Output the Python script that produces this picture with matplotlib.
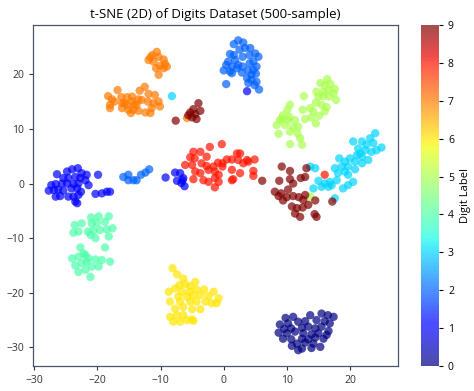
import matplotlib
matplotlib.use("Agg")
import matplotlib.pyplot as plt
import numpy as np

title = "t-SNE (2D) of Digits Dataset (500-sample)"
cbar_label = "Digit Label"
x_ticks = [-30, -20, -10, 0, 10, 20]
y_ticks = [-30, -20, -10, 0, 10, 20]
cbar_ticks = [0, 1, 2, 3, 4, 5, 6, 7, 8, 9]

digit0 = [(9.8,-24.6),(11.0,-24.4),(13.7,-24.1),(15.5,-23.8),(16.5,-24.1),(17.4,-24.4),(8.9,-25.8),(10.2,-25.6),
          (11.8,-25.3),(12.9,-25.2),(14.7,-25.0),(16.0,-25.2),(16.8,-25.6),(9.6,-26.6),(10.7,-26.5),(12.4,-26.4),
          (13.4,-26.2),(14.5,-26.5),(15.5,-26.2),(16.6,-27.0),(8.7,-27.3),(10.0,-27.4),(11.3,-27.1),(12.6,-27.4),
          (13.9,-27.6),(15.0,-27.4),(16.3,-27.7),(9.4,-28.4),(10.7,-28.5),(12.4,-28.4),(13.4,-28.5),(14.5,-28.2),
          (15.8,-28.4),(11.6,-29.3),(12.9,-29.1),(14.2,-29.3),(10.8,-29.7),(12.4,-30.2),(13.9,-30.1),(15.3,-29.9),
          (11.8,-30.5)]
digit1 = [(-26.4,1.7),(-24.8,2.2),(-24.0,2.6),(-23.1,2.8),(-22.5,1.9),(-21.7,1.6),(-19.9,1.6),(-25.4,1.0),
          (-24.6,1.0),(-23.5,1.2),(-22.7,1.0),(-21.9,0.6),(-27.3,-0.3),(-26.6,-0.1),(-25.6,0.0),(-24.8,0.0),
          (-23.8,-0.1),(-23.0,0.0),(-21.4,-0.3),(-27.7,-1.3),(-26.9,-1.2),(-26.2,-1.1),(-25.4,-1.3),(-24.1,-0.9),
          (-23.2,-0.9),(-22.6,-1.5),(-26.6,-2.4),(-25.9,-2.3),(-24.6,-2.4),(-23.8,-2.4),(-23.0,-2.1),(-23.5,-3.3),
          (-23.2,-3.6),(-20.3,-1.9),(-19.3,-1.8),(-18.5,-1.5),(-18.0,-1.5),
          (-9.2,1.1),(-7.7,2.0),(-6.9,1.9),(-6.4,1.0),(-7.4,0.5),(-6.7,0.1),(-6.2,-0.5),(-6.5,0.6),
          (3.7,16.9)]
digit2 = [(2.3,26.2),(1.6,25.5),(3.1,25.8),(3.4,24.8),(4.2,24.8),(2.5,24.5),(1.0,23.7),(1.6,23.5),(0.7,22.3),
          (1.8,22.6),(3.0,23.2),(4.1,23.5),(5.0,23.8),(5.5,23.2),(0.4,21.7),(1.3,21.4),(2.3,21.7),(3.0,21.4),
          (4.1,22.0),(4.7,22.3),(5.2,21.4),(0.0,20.7),(1.0,20.5),(2.1,21.1),(2.9,20.3),(3.9,20.7),(4.4,19.9),
          (5.1,20.1),(3.7,19.3),(4.4,19.0),(5.2,18.6),(3.9,18.4),(4.9,18.0),(5.6,17.2),(0.4,18.2),(1.3,20.2),
          (4.7,20.8),
          (-15.9,1.2),(-15.1,1.6),(-14.3,0.6),(-13.8,0.6),(-13.1,1.6),(-12.4,2.0),(-11.8,2.6),(-15.1,0.6)]
digit3 = [(24.0,9.2),(23.2,8.3),(20.5,7.7),(21.9,7.7),(22.6,7.1),(23.7,7.4),(25.0,6.6),(21.3,6.4),(22.4,6.1),
          (23.4,5.8),(21.1,5.2),(21.9,4.9),(20.0,4.6),(22.9,4.3),(18.3,4.6),(19.2,4.0),(20.8,4.0),(21.9,3.7),
          (17.6,2.8),(18.7,3.1),(19.7,3.1),(20.8,2.6),(14.5,2.8),(13.7,3.1),(18.1,1.9),(19.2,2.2),(19.7,1.6),
          (15.0,0.5),(16.0,0.0),(16.8,0.3),(15.5,-0.6),(16.6,-0.6),(14.2,-0.9),(17.9,0.6),(18.9,-0.9),(19.7,-0.3),
          (17.6,-2.7),(17.1,-0.3),(20.5,0.3),(21.6,5.5),(24.2,6.1),
          (-8.2,16.0)]
digit4 = [(-21.0,-6.2),(-19.8,-6.0),(-18.2,-6.0),(-23.6,-7.6),(-22.5,-7.3),(-20.9,-7.3),(-20.1,-7.2),(-18.8,-7.0),
          (-17.6,-8.2),(-23.8,-9.0),(-23.0,-8.8),(-21.5,-8.8),(-20.6,-8.6),(-19.6,-8.5),(-18.5,-8.4),(-21.1,-9.4),
          (-20.3,-10.0),(-18.2,-9.7),(-18.8,-11.7),(-22.7,-11.7),(-24.0,-13.7),(-23.0,-13.4),(-21.9,-13.1),
          (-21.4,-13.7),(-20.3,-13.9),(-19.3,-14.0),(-18.0,-14.3),(-23.5,-15.0),(-22.5,-14.6),(-21.7,-14.3),
          (-20.9,-15.2),(-19.8,-15.2),(-23.0,-16.2),(-21.9,-15.8),(-21.1,-17.1),(-22.2,-12.8)]
digit5 = [(16.4,19.1),(15.3,18.4),(16.0,18.0),(16.9,18.2),(17.6,17.3),(14.7,16.8),(15.8,16.8),(16.6,17.1),
          (17.4,16.5),(15.0,15.9),(15.8,16.0),(16.7,15.9),(17.8,15.3),(12.7,16.0),(10.5,14.4),(14.6,14.8),
          (15.5,14.4),(16.3,14.0),(12.5,13.5),(13.7,13.8),(14.2,13.2),(15.1,12.4),(16.0,13.2),(9.4,12.5),
          (10.4,12.2),(8.9,11.6),(8.4,10.7),(9.7,10.7),(11.0,10.3),(11.8,10.4),(12.9,11.8),(13.9,12.1),
          (14.6,11.0),(8.7,9.1),(10.5,9.5),(11.7,9.2),(12.1,8.3),(12.4,7.1),(10.5,7.2),(10.1,13.5),(9.2,11.9),
          (11.3,11.6),(10.2,11.6),
          (13.7,-2.4)]
digit6 = [(-8.1,-15.5),(-7.4,-16.6),(-6.4,-17.4),(-4.5,-18.0),(-7.0,-18.6),(-6.1,-18.4),(-5.3,-18.8),(-7.7,-19.2),
          (-8.7,-19.8),(-6.6,-19.8),(-5.4,-19.8),(-4.3,-19.4),(-3.1,-19.4),(-1.6,-19.8),(-7.2,-20.7),(-5.8,-20.7),
          (-4.8,-20.4),(-3.7,-20.4),(-2.4,-20.6),(-0.8,-21.0),(-8.5,-21.6),(-6.9,-21.6),(-5.3,-21.6),(-4.3,-21.6),
          (-2.9,-21.6),(-1.9,-21.9),(-7.7,-22.9),(-6.4,-22.6),(-5.0,-23.0),(-3.7,-23.0),(-8.5,-24.4),(-7.4,-24.1),
          (-6.4,-24.1),(-5.0,-24.9),(-8.0,-25.3),(-6.9,-25.3),(-5.8,-25.0),(-4.8,-25.1),(-1.1,-21.9)]
digit7 = [(-10.6,24.1),(-11.3,23.5),(-10.3,23.2),(-11.9,22.6),(-11.1,22.3),(-9.5,22.7),(-9.3,21.9),(-10.1,21.5),
          (-10.7,21.1),(-9.5,21.1),(-10.3,19.9),(-11.6,23.1),(-9.0,21.4),
          (-16.8,17.1),(-12.5,17.7),(-13.3,17.0),(-18.3,16.0),(-17.7,15.4),(-18.0,14.4),(-18.0,13.8),(-16.2,15.8),
          (-15.3,15.8),(-14.5,15.9),(-13.5,15.4),(-11.9,16.4),(-10.9,16.2),(-12.0,15.0),(-11.1,14.7),(-10.3,15.0),
          (-10.1,14.1),(-16.1,14.7),(-15.3,14.4),(-14.5,15.0),(-13.8,14.4),(-16.1,13.8),(-15.1,13.5),(-14.3,13.5),
          (-13.5,13.3),(-12.4,13.0),(-11.6,12.9),(-14.7,12.9),(-15.7,14.7),(-14.1,14.4),(-13.0,15.3),(-11.4,13.8),
          (-17.3,15.0),
          (-5.8,12.0)]
digit8 = [(-0.3,7.2),(-2.2,6.7),(-4.8,5.8),(-3.7,5.8),(-5.3,4.8),(-4.6,4.6),(-6.1,3.4),(-5.0,3.4),(-3.5,3.7),
          (-2.7,3.2),(-1.6,3.1),(-0.9,3.8),(-0.2,3.1),(0.5,4.4),(1.3,4.4),(2.1,5.5),(2.6,5.5),(2.3,4.3),(3.7,4.3),
          (4.9,4.4),(3.1,3.7),(3.9,4.0),(-4.5,2.2),(-3.7,1.9),(-2.4,2.5),(-1.4,2.2),(-0.8,1.6),(1.3,2.5),(2.6,1.9),
          (4.7,2.3),(-4.8,0.8),(-3.2,0.6),(-2.4,0.3),(-1.4,1.0),(-0.8,0.3),(1.3,0.6),(1.5,0.8),(4.7,1.4),
          (-1.4,-0.7),(-0.2,3.7),(-2.7,4.9),
          (16.0,1.6)]
digit9 = [(9.2,3.1),(10.5,2.3),(13.1,2.8),(8.8,0.5),(10.5,0.8),(11.0,0.0),(12.2,1.0),(12.9,1.2),(10.2,-1.1),
          (9.1,-1.8),(10.0,-2.5),(8.7,-2.3),(9.4,-3.1),(11.0,-2.3),(11.9,-2.5),(12.6,-3.0),(14.5,-3.1),(10.8,-4.2),
          (11.6,-4.5),(12.5,-4.4),(13.4,-3.9),(11.3,-5.5),(12.1,-6.1),(14.4,-5.6),(14.7,-6.1),(12.9,-2.1),
          (8.1,-1.5),(17.2,-3.3),(6.1,0.5),
          (-4.0,14.7),(-4.8,13.6),(-3.7,13.3),(-5.3,13.0),(-4.5,12.7),(-4.3,11.8),(-5.0,12.1),(-7.6,11.5),(-5.6,12.5)]

digits = [digit0, digit1, digit2, digit3, digit4, digit5, digit6, digit7, digit8, digit9]

xs, ys, labels = [], [], []
for lab, pts in enumerate(digits):
    for (px, py) in pts:
        xs.append(px)
        ys.append(py)
        labels.append(lab)

plt.rcParams['font.family'] = ['Open Sans', 'DejaVu Sans']

fig = plt.figure(figsize=(4.74, 3.91), dpi=100)
ax = fig.add_axes([0.0696, 0.0639, 0.770, 0.872])
cax = fig.add_axes([0.888, 0.0639, 0.038, 0.872])

sc = ax.scatter(xs, ys, c=labels, cmap='jet', vmin=0, vmax=9, s=36, alpha=0.7, linewidths=0)
ax.set_xlim(-30.2, 27.6)
ax.set_ylim(-33.4, 29.0)
ax.set_xticks(x_ticks)
ax.set_yticks(y_ticks)
ax.set_title(title, fontsize=9.5, pad=5)
ax.tick_params(labelsize=7.5, length=3, width=0.8, colors='#333333')
for sp in ax.spines.values():
    sp.set_color('#4a5566')
    sp.set_linewidth(0.9)

cb = fig.colorbar(sc, cax=cax, ticks=cbar_ticks)
cb.outline.set_visible(False)
cb.ax.tick_params(labelsize=7.5, length=3, width=0.8)
cb.set_label(cbar_label, fontsize=8)

fig.savefig('out.png', dpi=100)
